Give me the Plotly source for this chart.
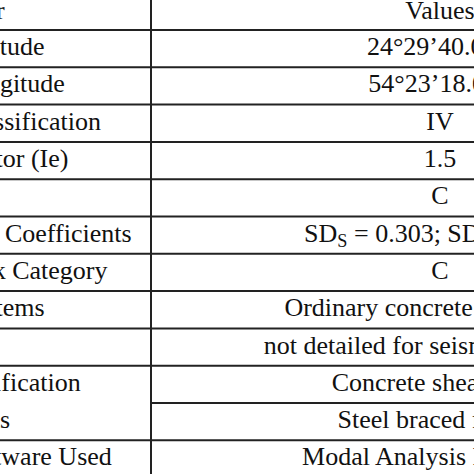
import plotly.graph_objects as go

# table content (the reference is a crop; text runs past both edges)
header_param = "Parameter"
header_value = "Values"
param_labels = ["Latitude", "Longitude", "Classification", "Factor (Ie)", "Site",
                "Site Coefficients", "Risk Category", "Systems", "",
                "Verification", "Parts", "Software Used"]
value_labels = ["24°29’40.0″N", "54°23’18.0″E", "IV", "1.5", "C",
                "SD<sub>S</sub> = 0.303; SD<sub>1</sub> = 0.120", "C",
                "Ordinary concrete shear walls", "not detailed for seismic resistance",
                "Concrete shear walls", "Steel braced frames", "Modal Analysis Procedure"]
# rows whose top border is hidden in the left column (wrapped cell)
merged_left = [10]

W = 474
TOP = 30
ROW_H = 37.3
COL_X = 151
LEFT_X = -42
VAL_X = 440
FONT = dict(family="Liberation Serif", size=26, color="#111")

n = len(param_labels)
row_y = [TOP + ROW_H * (i + 0.5) for i in range(n)]

fig = go.Figure()
fig.add_trace(go.Scatter(x=[LEFT_X] * n, y=row_y, mode="text", text=param_labels,
                         textposition="middle right", textfont=FONT, hoverinfo="skip"))
fig.add_trace(go.Scatter(x=[VAL_X] * n, y=row_y, mode="text", text=value_labels,
                         textposition="middle center", textfont=FONT, hoverinfo="skip"))
fig.add_trace(go.Scatter(x=[-48, VAL_X], y=[TOP - 18, TOP - 18], mode="text",
                         text=[header_param, header_value], textposition="middle center",
                         textfont=FONT, hoverinfo="skip"))

line = dict(color="#222", width=2)
for i in range(n):
    y = TOP + ROW_H * i
    x0 = COL_X if i in merged_left else -10
    fig.add_shape(type="line", x0=x0, x1=W + 10, y0=y, y1=y, line=line)
fig.add_shape(type="line", x0=COL_X, x1=COL_X, y0=-10, y1=W + 10, line=line)

fig.update_layout(
    width=W, height=W, margin=dict(l=0, r=0, t=0, b=0),
    paper_bgcolor="white", plot_bgcolor="white", showlegend=False,
    xaxis=dict(range=[0, W], visible=False, fixedrange=True),
    yaxis=dict(range=[W, 0], visible=False, fixedrange=True),
)
fig.write_html("out.html", post_script="document.body.style.margin='0';",
               config={"displayModeBar": False})
